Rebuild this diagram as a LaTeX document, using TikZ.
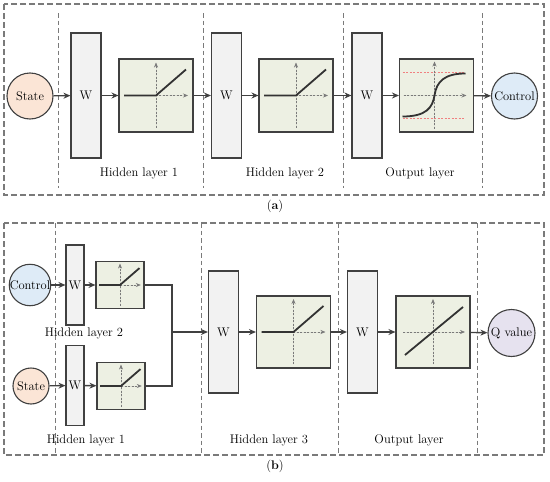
\documentclass[tikz,border=0pt]{standalone}
\usetikzlibrary{arrows.meta}
\definecolor{peach}{HTML}{FBE5D6}
\definecolor{lblue}{HTML}{DEEBF7}
\definecolor{lav}{HTML}{E6E2EF}
\definecolor{wgray}{HTML}{F2F2F2}
\definecolor{fgreen}{HTML}{EDF0E3}
\definecolor{dk}{HTML}{404040}
\definecolor{frm}{HTML}{7A7A7A}
\definecolor{rd}{HTML}{F08080}
\newcommand{\relufn}[2]{%
  \begin{scope}[shift={(#1.center)},scale=#2]
    \draw[axisln,-{Stealth[length=5pt,width=4pt]}] (0,32) -- (0,-33);
    \draw[axisln,-{Stealth[length=5pt,width=4pt]}] (-32,0) -- (32,0);
    \draw[curveln] (-32,0) -- (0,0) -- (30,-26);
  \end{scope}}
\newcommand{\sigfn}[1]{%
  \begin{scope}[shift={(#1.center)}]
    \draw[rd,dashed,line width=0.6pt,dash pattern=on 2pt off 1.5pt] (-34,-23) -- (29,-23);
    \draw[rd,dashed,line width=0.6pt,dash pattern=on 2pt off 1.5pt] (-34,23) -- (29,23);
    \draw[axisln,-{Stealth[length=5pt,width=4pt]}] (-2,33) -- (-2,-34);
    \draw[axisln,-{Stealth[length=5pt,width=4pt]}] (-33,0) -- (30,0);
    \draw[curveln] (-34,21) .. controls (-10,21) and (-4,12) .. (-2,0)
      .. controls (0,-14) and (8,-22) .. (29,-22);
  \end{scope}}
\newcommand{\linfn}[1]{%
  \begin{scope}[shift={(#1.center)}]
    \draw[axisln,-{Stealth[length=5pt,width=4pt]}] (0,32) -- (0,-33);
    \draw[axisln,-{Stealth[length=5pt,width=4pt]}] (-30,0) -- (32,0);
    \draw[curveln] (-28,23) -- (30,-25);
  \end{scope}}
\begin{document}
\begin{tikzpicture}[x=1pt,y=-1pt,
  font=\fontsize{12.5}{15}\selectfont,
  outer/.style={draw=frm,line width=1.3pt,dash pattern=on 6pt off 3pt},
  inner/.style={draw=frm,line width=0.7pt,dash pattern=on 4.5pt off 3pt},
  wbox/.style={draw=dk,line width=1.1pt,fill=wgray,minimum width=30pt,minimum height=125pt,inner sep=0pt},
  wsmall/.style={draw=dk,line width=1.1pt,fill=wgray,minimum width=18pt,minimum height=80pt,inner sep=0pt},
  fbox/.style={draw=dk,line width=1.1pt,fill=fgreen,minimum width=74pt,minimum height=73pt,inner sep=0pt},
  fsmall/.style={draw=dk,line width=1.1pt,fill=fgreen,minimum width=48pt,minimum height=47pt,inner sep=0pt},
  circ/.style={circle,draw=dk,line width=1.1pt,inner sep=0pt},
  axisln/.style={draw=frm,fill=frm,line width=0.6pt,dash pattern=on 2pt off 1.5pt},
  curveln/.style={draw=black!80,line width=1.8pt},
  arr/.style={draw=dk,line width=1.4pt,-{Stealth[length=7pt,width=6pt]}},
  conn/.style={draw=dk,line width=1.1pt},
  lbl/.style={inner sep=0pt}
]
\useasboundingbox (0,0) rectangle (550,482);
% ---------- panel (a)
\draw[outer] (4,4) rectangle (544,195);
\foreach \x in {58,203,343,482} \draw[inner] (\x,13) -- (\x,188);
\node[circ,fill=peach,minimum size=46pt] (sa) at (30,96) {State};
\node[wbox] (w1) at (86,95.5) {W};
\node[fbox] (f1) at (156,95.5) {};
\node[wbox] (w2) at (226.5,95.5) {W};
\node[fbox] (f2) at (296,95.5) {};
\node[wbox] (w3) at (367,95.5) {W};
\node[fbox] (f3) at (436.5,95.5) {};
\node[circ,fill=lblue,minimum size=46pt] (ca) at (514.5,96) {Control};
\relufn{f1}{1}
\relufn{f2}{1}
\sigfn{f3}
\draw[arr] (sa) -- (w1);
\draw[arr] (w1) -- (f1);
\draw[arr] (f1) -- (w2);
\draw[arr] (w2) -- (f2);
\draw[arr] (f2) -- (w3);
\draw[arr] (w3) -- (f3);
\draw[arr] (f3) -- (ca);
\node[lbl] (la1) at (139,173) {Hidden layer 1};
\node[lbl] (la2) at (285,173) {Hidden layer 2};
\node[lbl] (la3) at (420,173) {Output layer};
\node[lbl] (capa) at (275,206) {(\textbf{a})};
% ---------- panel (b)
\draw[outer] (4,223) rectangle (544,455);
\foreach \x in {55,201,338,477} \draw[inner] (\x,223) -- (\x,455);
\node[circ,fill=lblue,minimum size=41pt] (cb) at (30,285) {Control};
\node[wsmall] (wt) at (75,285) {W};
\node[fsmall] (ft) at (120,285) {};
\node[circ,fill=peach,minimum size=36pt] (sb) at (31,386) {State};
\node[wsmall] (wb) at (75,385.5) {W};
\node[fsmall] (fb) at (121,386) {};
\node[wbox,minimum height=122pt] (w4) at (223.5,332) {W};
\node[fbox,minimum height=72pt] (f4) at (293.5,332) {};
\node[wbox,minimum height=122pt] (w5) at (362.5,332) {W};
\node[fbox,minimum height=72pt] (f5) at (433,332) {};
\node[circ,fill=lav,minimum size=47pt] (qv) at (511.5,333) {Q value};
\relufn{ft}{0.65}
\relufn{fb}{0.65}
\relufn{f4}{1}
\linfn{f5}
\coordinate (j) at (172,332);
\draw[arr] (cb) -- (wt);
\draw[arr] (wt) -- (ft);
\draw[arr] (sb) -- (wb);
\draw[arr] (wb) -- (fb);
\draw[conn] (ft.east) -| (j);
\draw[conn] (fb.east) -| (j);
\draw[arr] (j) -- (w4);
\draw[arr] (w4) -- (f4);
\draw[arr] (f4) -- (w5);
\draw[arr] (w5) -- (f5);
\draw[arr] (f5) -- (qv);
\node[lbl] (lb2) at (84,333) {Hidden layer 2};
\node[lbl] (lb1) at (86,440) {Hidden layer 1};
\node[lbl] (lb3) at (269,440) {Hidden layer 3};
\node[lbl] (lb4) at (409,440) {Output layer};
\node[lbl] (capb) at (275,466) {(\textbf{b})};
\end{tikzpicture}
\end{document}
